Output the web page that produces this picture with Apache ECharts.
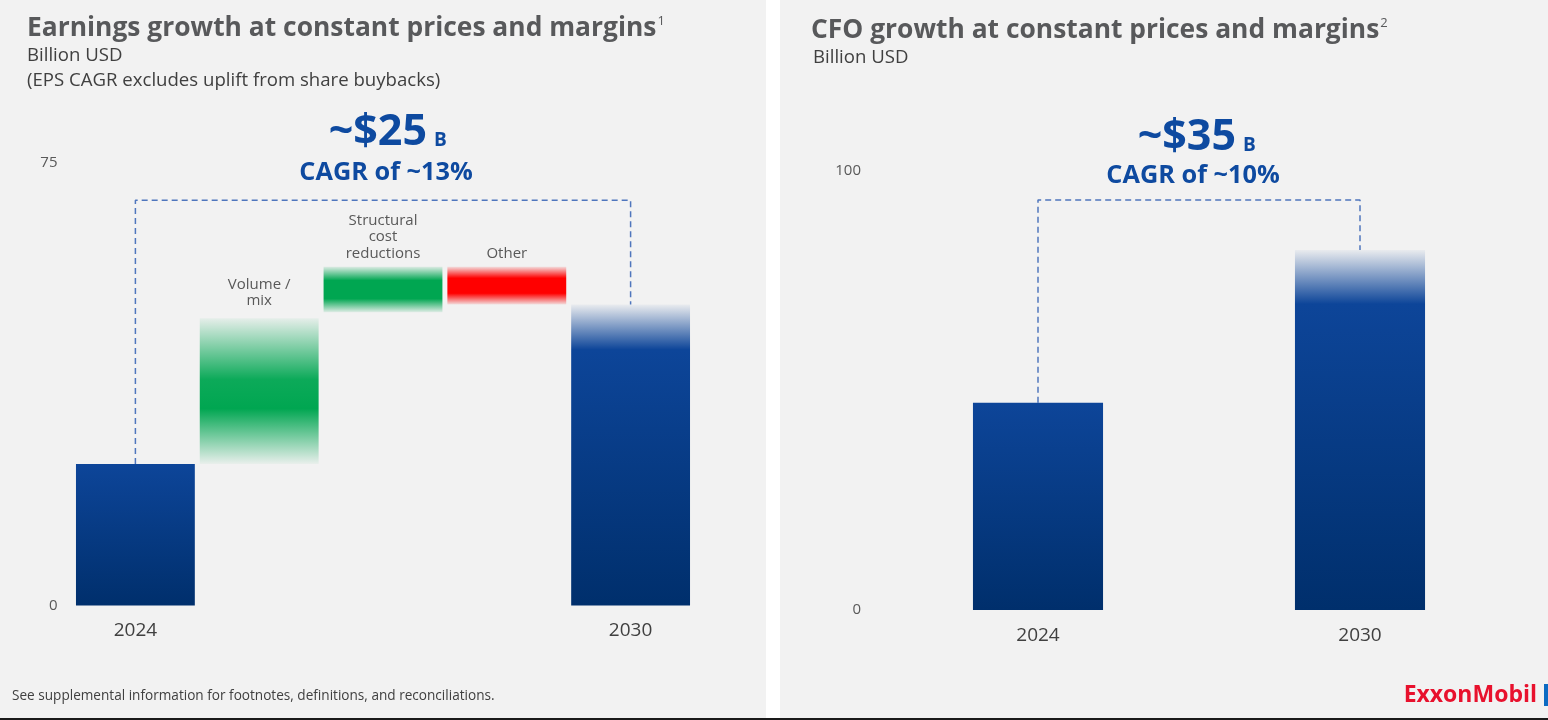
<!DOCTYPE html>
<html>
<head>
<meta charset="utf-8">
<script src="https://cdn.jsdelivr.net/npm/echarts@6/dist/echarts.min.js"></script>
<style>
html,body{margin:0;padding:0;background:#f2f2f2;}
#c{width:1548px;height:720px;}
</style>
</head>
<body>
<div id="c"></div>
<script>
// ---- data ----
const leftCategories = ['2024', 'Volume /\nmix', 'Structural\ncost\nreductions', 'Other', '2030'];
const leftStart = [0, 24.0, 49.7, 57.4, 0];
const leftEnd = [24.0, 48.7, 57.4, 51.0, 51.0];
const leftTicks = [0, 75];
const leftBracketTop = 68.7;

const rightCategories = ['2024', '2030'];
const rightValues = [47.2, 82.0];
const rightTicks = [0, 100];
const rightBracketTop = 93.4;

const FONT = 'Open Sans';
const BLUE = '#0d4599', NAVY = '#002f6c';

function lin(stops) {
  return new echarts.graphic.LinearGradient(0, 0, 0, 1, stops.map(s => ({offset: s[0], color: s[1]})));
}
const solidBlue = lin([[0, BLUE], [1, NAVY]]);
const fadeBlue = lin([[0, 'rgba(13,69,153,0.04)'], [0.15, BLUE], [1, NAVY]]);
const greenVol = lin([[0, 'rgba(0,166,81,0.05)'], [0.42, 'rgba(0,166,81,0.95)'], [0.62, 'rgba(0,166,81,1)'], [1, 'rgba(0,166,81,0.04)']]);
const greenCost = lin([[0, 'rgba(0,166,81,0.1)'], [0.3, 'rgba(0,166,81,1)'], [0.7, 'rgba(0,166,81,1)'], [1, 'rgba(0,166,81,0.08)']]);
const redOther = lin([[0, 'rgba(255,0,0,0.1)'], [0.3, 'rgba(255,0,0,1)'], [0.7, 'rgba(255,0,0,1)'], [1, 'rgba(255,0,0,0.08)']]);
const leftColors = [solidBlue, greenVol, greenCost, redOther, fadeBlue];
const labelDist = [0, 9, 5, 5, 0];

const leftBase = leftStart.map((s, i) => Math.min(s, leftEnd[i]));
const leftDelta = leftStart.map((s, i) => ({
  value: Math.abs(leftEnd[i] - s),
  itemStyle: {color: leftColors[i]},
  label: {distance: labelDist[i]}
}));

const chart = echarts.init(document.getElementById('c'), null, {renderer: 'canvas'});

const dash = {color: '#4f76bd', width: 1.5, type: [6, 4]};
const titleRich = {
  t: {fontFamily: FONT, fontWeight: 'bold', fontSize: 26.4, fill: '#58595b', color: '#58595b'},
  s: {fontFamily: FONT, fontSize: 13, fill: '#58595b', color: '#58595b', verticalAlign: 'top', padding: [0, 0, 0, 1]}
};

chart.setOption({
  backgroundColor: '#f2f2f2',
  animation: false,
  grid: [
    {left: 73.5, right: 1548 - 692.5, top: 163, bottom: 720 - 605.5},
    {left: 877, right: 1548 - 1521, top: 171, bottom: 720 - 610}
  ],
  xAxis: [
    {type: 'category', gridIndex: 0, data: leftCategories,
      axisLine: {show: false}, axisTick: {show: false},
      axisLabel: {interval: 0, margin: 16, fontFamily: FONT, fontSize: 19, color: '#404040',
        formatter: (v, i) => (i === 0 || i === leftCategories.length - 1) ? v : ''}},
    {type: 'category', gridIndex: 1, data: rightCategories,
      axisLine: {show: false}, axisTick: {show: false},
      axisLabel: {interval: 0, margin: 16, fontFamily: FONT, fontSize: 19, color: '#404040'}}
  ],
  yAxis: [
    {type: 'value', gridIndex: 0, min: leftTicks[0], max: leftTicks[1], interval: leftTicks[1] - leftTicks[0],
      splitLine: {show: false}, axisLine: {show: false}, axisTick: {show: false},
      axisLabel: {margin: 16, fontFamily: FONT, fontSize: 15, color: '#595959'}},
    {type: 'value', gridIndex: 1, min: rightTicks[0], max: rightTicks[1], interval: rightTicks[1] - rightTicks[0],
      splitLine: {show: false}, axisLine: {show: false}, axisTick: {show: false},
      axisLabel: {margin: 16, fontFamily: FONT, fontSize: 15, color: '#595959'}}
  ],
  series: [
    {type: 'line', xAxisIndex: 0, yAxisIndex: 0, symbol: 'none', z: 1,
      lineStyle: dash,
      data: [[0, leftEnd[0]], [0, leftBracketTop], [leftCategories.length - 1, leftBracketTop], [leftCategories.length - 1, leftEnd[leftEnd.length - 1]]]},
    {type: 'bar', xAxisIndex: 0, yAxisIndex: 0, stack: 'w', barWidth: '96%', z: 2,
      itemStyle: {color: 'transparent'}, data: leftBase},
    {type: 'bar', xAxisIndex: 0, yAxisIndex: 0, stack: 'w', barWidth: '96%', z: 2,
      label: {show: true, position: 'top', fontFamily: FONT, fontSize: 15, lineHeight: 16.5, color: '#595959',
        formatter: p => (p.dataIndex === 0 || p.dataIndex === leftCategories.length - 1) ? '' : leftCategories[p.dataIndex]},
      data: leftDelta},
    {type: 'line', xAxisIndex: 1, yAxisIndex: 1, symbol: 'none', z: 1,
      lineStyle: dash,
      data: [[0, rightValues[0]], [0, rightBracketTop], [1, rightBracketTop], [1, rightValues[1]]]},
    {type: 'bar', xAxisIndex: 1, yAxisIndex: 1, barWidth: '40.4%', z: 2,
      data: rightValues.map((v, i) => ({value: v, itemStyle: {color: i === 0 ? solidBlue : fadeBlue}}))}
  ],
  graphic: [
    {type: 'rect', shape: {x: 766, y: 0, width: 14, height: 718}, style: {fill: '#ffffff'}, silent: true},
    {type: 'rect', shape: {x: 0, y: 718, width: 1548, height: 2}, style: {fill: '#1a1a1a'}, silent: true},
    {type: 'text', x: 27, y: 28, style: {text: '{t|Earnings growth at constant prices and margins}{s|1}', rich: titleRich, verticalAlign: 'middle'}},
    {type: 'text', x: 27, y: 56, style: {text: 'Billion USD', fontFamily: FONT, fontSize: 18.6, fill: '#404040', verticalAlign: 'middle'}},
    {type: 'text', x: 27, y: 81, style: {text: '(EPS CAGR excludes uplift from share buybacks)', fontFamily: FONT, fontSize: 18.6, fill: '#404040', verticalAlign: 'middle'}},
    {type: 'text', x: 811, y: 30, style: {text: '{t|CFO growth at constant prices and margins}{s|2}', rich: titleRich, verticalAlign: 'middle'}},
    {type: 'text', x: 813, y: 58, style: {text: 'Billion USD', fontFamily: FONT, fontSize: 18.6, fill: '#404040', verticalAlign: 'middle'}},
    {type: 'text', x: 427, y: 133, style: {text: '~$25', fontFamily: FONT, fontWeight: 'bold', fontSize: 43, fill: '#0e4aa0', align: 'right', verticalAlign: 'middle'}},
    {type: 'text', x: 434, y: 141, style: {text: 'B', fontFamily: FONT, fontWeight: 'bold', fontSize: 19, fill: '#0e4aa0', align: 'left', verticalAlign: 'middle'}},
    {type: 'text', x: 386, y: 173, style: {text: 'CAGR of ~13%', fontFamily: FONT, fontWeight: 'bold', fontSize: 25.3, fill: '#0e4aa0', align: 'center', verticalAlign: 'middle'}},
    {type: 'text', x: 1236, y: 138, style: {text: '~$35', fontFamily: FONT, fontWeight: 'bold', fontSize: 43, fill: '#0e4aa0', align: 'right', verticalAlign: 'middle'}},
    {type: 'text', x: 1243, y: 146, style: {text: 'B', fontFamily: FONT, fontWeight: 'bold', fontSize: 19, fill: '#0e4aa0', align: 'left', verticalAlign: 'middle'}},
    {type: 'text', x: 1193, y: 176, style: {text: 'CAGR of ~10%', fontFamily: FONT, fontWeight: 'bold', fontSize: 25.3, fill: '#0e4aa0', align: 'center', verticalAlign: 'middle'}},
    {type: 'text', x: 12, y: 696, style: {text: 'See supplemental information for footnotes, definitions, and reconciliations.', fontFamily: FONT, fontSize: 13.6, fill: '#404040', verticalAlign: 'middle'}},
    {type: 'text', x: 1537, y: 695, style: {text: 'ExxonMobil', fontFamily: FONT, fontWeight: 'bold', fontSize: 23, fill: '#e8112d', align: 'right', verticalAlign: 'middle'}},
    {type: 'rect', shape: {x: 1544, y: 684, width: 4, height: 22}, style: {fill: '#0c6bc2'}, silent: true}
  ]
});
</script>
</body>
</html>
